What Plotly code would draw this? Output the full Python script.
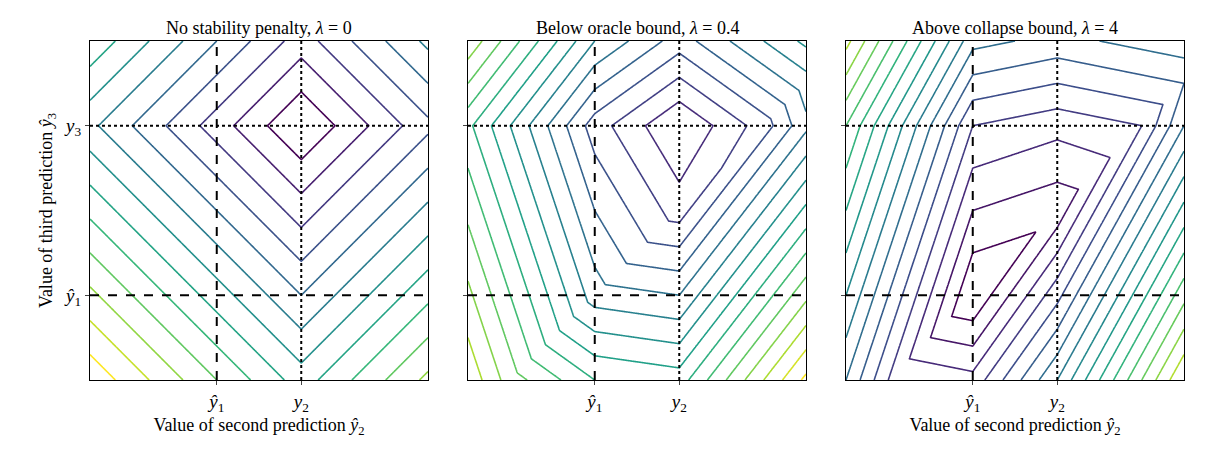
import numpy as np
import plotly.graph_objects as go

titles = ["No stability penalty, <i>λ</i> = 0", "Below oracle bound, <i>λ</i> = 0.4", "Above collapse bound, <i>λ</i> = 4"]
lambdas = [0.0, 0.4, 4.0]
y1_hat = 0.0   # first prediction
y2_true = 1.0
y3_true = 2.0
x_range = [-1.5, 2.5]
y_range = [-1.0, 3.0]
level_starts = [0.4, 0.4, 4.5]
level_steps = [0.4, 0.4, 1.5]
level_ends = [5.6, 7.0, 30.0]

xs = np.linspace(x_range[0], x_range[1], 401)
ys = np.linspace(y_range[0], y_range[1], 401)
X, Y = np.meshgrid(xs, ys)

fig = go.Figure()
doms = [(82, 420), (460, 798), (838, 1176)]
W, H = 1209, 467
top, bot = 33, 372
font = "Liberation Serif"
for i, lam in enumerate(lambdas):
    Z = np.abs(X - y2_true) + np.abs(Y - y3_true) + lam * (np.abs(X - y1_hat) + np.abs(Y - X))
    s = "" if i == 0 else str(i + 1)
    fig.add_trace(go.Contour(x=xs, y=ys, z=Z, xaxis="x" + s, yaxis="y" + s,
                             contours=dict(coloring="lines", start=level_starts[i], end=level_ends[i], size=level_steps[i]),
                             colorscale="Viridis", zmin=level_starts[i], zmax=level_ends[i],
                             line=dict(width=1.6), showscale=False, hoverinfo="skip"))
    xa = dict(domain=[doms[i][0] / W, doms[i][1] / W], range=x_range, tickvals=[y1_hat, y2_true],
              ticktext=["<i>ŷ</i><sub>1</sub>", "<i>y</i><sub>2</sub>"], ticks="outside", ticklen=4,
              showgrid=False, zeroline=False, mirror=True, showline=True, linecolor="black", linewidth=1,
              anchor="y" + s, tickfont=dict(size=19), automargin=False)
    if i != 1:
        xa["title"] = dict(text="Value of second prediction <i>ŷ</i><sub>2</sub>", font=dict(size=18), standoff=4)
    ya = dict(domain=[1 - bot / H, 1 - top / H], range=y_range, tickvals=[y1_hat, y3_true],
              ticktext=["<i>ŷ</i><sub>1</sub>", "<i>y</i><sub>3</sub>"] if i == 0 else ["", ""],
              ticks="outside", ticklen=4, showgrid=False, zeroline=False, mirror=True, showline=True,
              linecolor="black", linewidth=1, anchor="x" + s, tickfont=dict(size=19), automargin=False)
    if i == 0:
        ya["title"] = dict(text="Value of third prediction <i>ŷ</i><sub>3</sub>", font=dict(size=18), standoff=6)
    fig.layout["xaxis" + s] = xa
    fig.layout["yaxis" + s] = ya
    xr, yr = "x" + s, "y" + s
    fig.add_shape(type="line", xref=xr, yref=yr, x0=y1_hat, x1=y1_hat, y0=y_range[0], y1=y_range[1], line=dict(color="black", dash="dash", width=2))
    fig.add_shape(type="line", xref=xr, yref=yr, y0=y1_hat, y1=y1_hat, x0=x_range[0], x1=x_range[1], line=dict(color="black", dash="dash", width=2))
    fig.add_shape(type="line", xref=xr, yref=yr, x0=y2_true, x1=y2_true, y0=y_range[0], y1=y_range[1], line=dict(color="black", dash="dot", width=2))
    fig.add_shape(type="line", xref=xr, yref=yr, y0=y3_true, y1=y3_true, x0=x_range[0], x1=x_range[1], line=dict(color="black", dash="dot", width=2))
    fig.add_annotation(text=titles[i], xref="paper", yref="paper", x=(doms[i][0] + doms[i][1]) / 2 / W,
                       xanchor="center", y=1 - top / H, yanchor="bottom", showarrow=False, font=dict(size=18), yshift=1)

fig.update_layout(width=W, height=H, margin=dict(l=0, r=0, t=0, b=0), plot_bgcolor="white",
                  paper_bgcolor="white", font=dict(family=font, color="black"), showlegend=False)
fig.write_html("out.html")
